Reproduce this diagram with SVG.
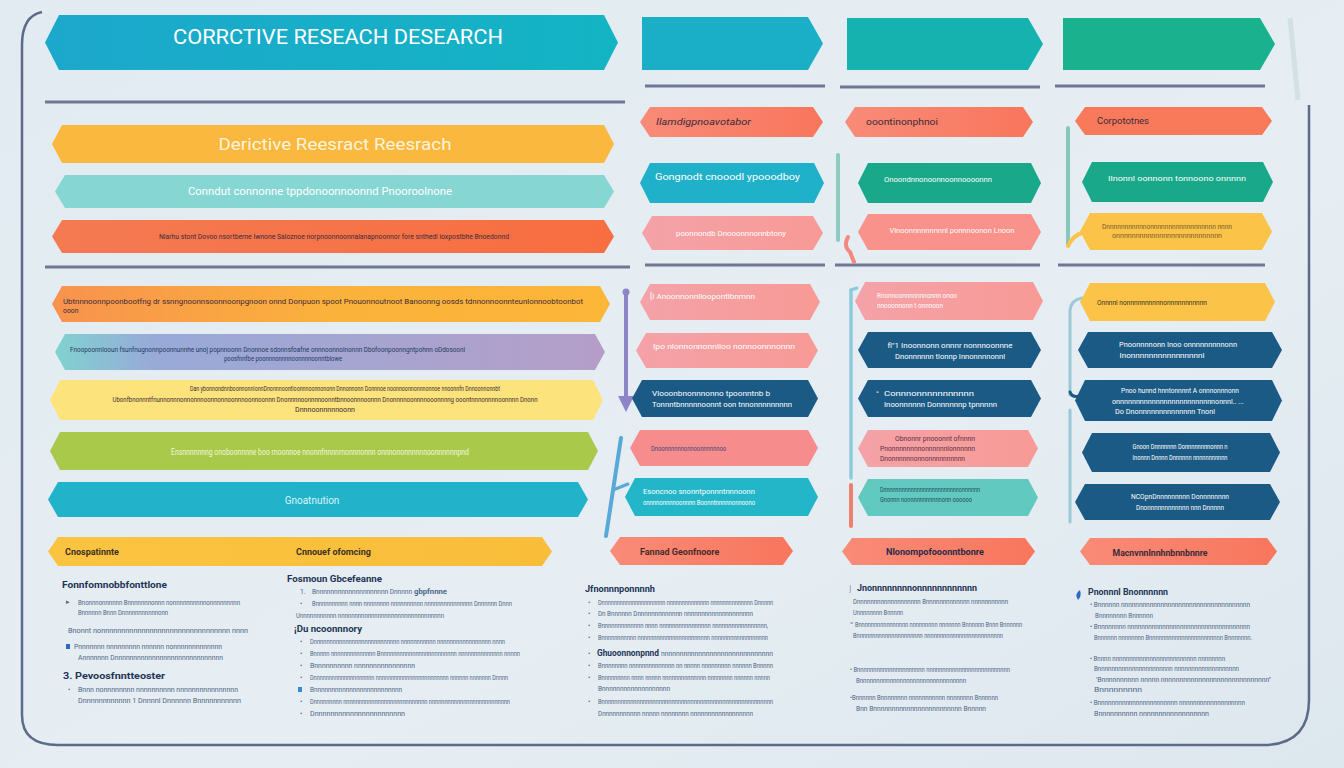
<svg xmlns="http://www.w3.org/2000/svg" width="1344" height="768" viewBox="0 0 1344 768">
<defs>
<linearGradient id="bg" x1="0" y1="0" x2="1" y2="1"><stop offset="0" stop-color="#e2ebf1"/><stop offset="0.6" stop-color="#e6eef3"/><stop offset="1" stop-color="#dde7ee"/></linearGradient>
<linearGradient id="gOrange" x1="0" y1="0" x2="1" y2="0"><stop offset="0" stop-color="#f8924e"/><stop offset="0.5" stop-color="#fbb23c"/><stop offset="1" stop-color="#fcb638"/></linearGradient>
<linearGradient id="gPurple" x1="0" y1="0" x2="1" y2="0"><stop offset="0" stop-color="#80d2d0"/><stop offset="0.18" stop-color="#98aad8"/><stop offset="1" stop-color="#b59ec8"/></linearGradient>
<linearGradient id="gRed" x1="0" y1="0" x2="1" y2="0"><stop offset="0" stop-color="#f47a52"/><stop offset="1" stop-color="#f86e40"/></linearGradient>
<linearGradient id="gYelBot" x1="0" y1="0" x2="1" y2="0"><stop offset="0" stop-color="#fbc440"/><stop offset="1" stop-color="#f9bd3a"/></linearGradient>
<linearGradient id="gTitle" x1="0" y1="0" x2="1" y2="0"><stop offset="0" stop-color="#1ca8cc"/><stop offset="1" stop-color="#13b4c4"/></linearGradient>
<linearGradient id="gSalmon" x1="0" y1="0" x2="1" y2="0"><stop offset="0" stop-color="#f98b78"/><stop offset="1" stop-color="#f8765c"/></linearGradient>
<linearGradient id="gPink" x1="0" y1="0" x2="1" y2="0"><stop offset="0" stop-color="#f4a2a8"/><stop offset="1" stop-color="#f89a96"/></linearGradient>
<marker id="ahD" viewBox="0 0 10 10" refX="5" refY="5" markerWidth="4" markerHeight="4" orient="auto"><path d="M0,0 L10,5 L0,10 z" fill="#8d85c8"/></marker>
<style>
.t{font-family:Roboto,"Liberation Sans",sans-serif}
.w{fill:#ffffff}
.dk{fill:#3b2a3a}
.nv{fill:#1f3a5f}
.h{font-family:Roboto,"Liberation Sans",sans-serif;font-size:8.5px;font-weight:bold;fill:#1e3556}
.li{font-family:Roboto,"Liberation Sans",sans-serif;font-size:6.8px;fill:#4d6585}
.sep{stroke:#6e7894;stroke-width:3;fill:none}
.con{fill:none;stroke-linecap:round}
.pink{fill:url(#gPink)}
.salmon{fill:url(#gSalmon)}
.navy{fill:#1b5a84}
.teal{fill:#1fb1c9}
.green{fill:#1aa88a}
.yel{fill:#fbc449}
</style>
</defs>
<rect width="1344" height="768" fill="url(#bg)"/>
<path d="M42,12 Q22,16 22,45 L22,715 Q22,745 58,745 L1268,745 Q1309,742 1309,700 L1309,105" fill="none" stroke="#5d6b8a" stroke-width="2.5"/>
<path d="M1290,18 L1298,100" stroke="#d3e0e5" stroke-width="5" fill="none"/>

<g id="separators">
<line class="sep" x1="45" y1="102" x2="625" y2="102"/>
<line class="sep" x1="45" y1="267" x2="630" y2="267"/>
<line class="sep" x1="645" y1="86" x2="825" y2="86" stroke-width="2.5"/>
<line class="sep" x1="840" y1="87" x2="1040" y2="87" stroke-width="2.5"/>
<line class="sep" x1="1055" y1="86" x2="1265" y2="86" stroke-width="2.5"/>
<line class="sep" x1="645" y1="265" x2="825" y2="265" stroke-width="2.5"/>
<line class="sep" x1="835" y1="265" x2="1040" y2="265" stroke-width="2.5"/>
<line class="sep" x1="1058" y1="265" x2="1265" y2="265" stroke-width="2.5"/>
</g>

<g id="connectors">
<line class="con" x1="626" y1="292" x2="626" y2="404" stroke="#8d85c8" stroke-width="4" marker-end="url(#ahD)"/>
<circle cx="626" cy="292" r="3.5" fill="#8d85c8"/>
<path class="con" d="M621,438 L606,536" stroke="#5aa8d8" stroke-width="4"/>
<path class="con" d="M613,490 L628,484" stroke="#5aa8d8" stroke-width="3"/>
<path class="con" d="M838,155 L838,240" stroke="#8ccac2" stroke-width="4"/>
<path class="con" d="M848,237 Q843,246 850,252 L854,262" stroke="#f08a7e" stroke-width="4"/>
<path class="con" d="M851,290 L851,478" stroke="#8ccadc" stroke-width="3.5"/>
<path class="con" d="M851,290 L857,288" stroke="#8ccadc" stroke-width="3"/>
<path class="con" d="M851,485 L851,526" stroke="#f0806e" stroke-width="4"/>
<path class="con" d="M1068,128 L1068,244" stroke="#88c8b8" stroke-width="4"/>
<path class="con" d="M1068,246 Q1072,236 1084,232" stroke="#fbc34a" stroke-width="4"/>
<path class="con" d="M1070,395 L1070,310 Q1071,300 1082,298" stroke="#9cc8d8" stroke-width="3"/>
<path class="con" d="M1070,392 Q1072,398 1080,396" stroke="#1b5a84" stroke-width="3"/>
<path class="con" d="M1070,410 L1070,522" stroke="#9cc8d8" stroke-width="3"/>
</g>

<g id="title">
<polygon points="59,15 604,15 618,42.5 604,70 59,70 45,42.5" fill="url(#gTitle)"/>
<text class="t w" x="338" y="44" font-size="21" text-anchor="middle" textLength="330" lengthAdjust="spacingAndGlyphs">CORRCTIVE RESEACH DESEARCH</text>
</g>

<g id="l-row1">
<polygon points="62,125 604,125 614,144 604,163 62,163 52,144" fill="#fbb83e"/>
<text class="t" x="335" y="150" font-size="17" fill="#fdf3dc" text-anchor="middle" textLength="233" lengthAdjust="spacingAndGlyphs">Derictive Reesract Reesrach</text>
</g>
<g id="l-row2">
<polygon points="65,175 604,175 614,191.5 604,208 65,208 55,191.5" fill="#86d6d4"/>
<text class="t w" x="320" y="195" font-size="10" text-anchor="middle" textLength="264" lengthAdjust="spacingAndGlyphs">Conndut connonne tppdonoonnoonnd Pnooroolnone</text>
</g>
<g id="l-row3">
<polygon points="62,220 604,220 614,236.5 604,253 62,253 52,236.5" fill="url(#gRed)"/>
<text class="t dk" x="334" y="239" font-size="7.5" text-anchor="middle" textLength="350" lengthAdjust="spacingAndGlyphs">Nlarhu stont Dovoo nsortberne Iwnone Saloznoe norpnoonnoonnalanapnoonnor fore snthedl ioxpostbhe Bnoedonnd</text>
</g>
<g id="l-row4">
<polygon points="62,286 600,286 610,304 600,322 62,322 52,304" fill="url(#gOrange)"/>
<text class="t dk" x="63" y="304" font-size="6.8" textLength="520" lengthAdjust="spacingAndGlyphs">Ubtnnnoonnpoonbootfng dr ssnngnoonnsoonnoonpgnoon onnd Donpuon spoot Pnouonnoutnoot Banoonng oosds tdnnonnoonnteunlonnoobtoonbot</text>
<text class="t dk" x="63" y="313" font-size="6.8">ooon</text>
</g>
<g id="l-row5">
<polygon points="65,334 595,334 605,352 595,370 65,370 55,352" fill="url(#gPurple)"/>
<text class="t nv" x="70" y="352" font-size="6.8" textLength="395" lengthAdjust="spacingAndGlyphs">Fnoopoonnlooun fsunfnugnonnpoonnunnhe unoj popnnoonn Dnonnoe sdonnsfoafne onnnoonnolnonnn Dbofoonpoonngntpohnn oDdosoonl</text>
<text class="t nv" x="283" y="361" font-size="6.8" text-anchor="middle" textLength="118" lengthAdjust="spacingAndGlyphs">poosfnnfbe poonnnonnnnoonnnnoonntblowe</text>
</g>
<g id="l-row6">
<polygon points="60,380 593,380 603,400 593,420 60,420 50,400" fill="#fde37c"/>
<text class="t dk" x="345" y="391" font-size="6.5" text-anchor="middle" textLength="310" lengthAdjust="spacingAndGlyphs">Dan ybonnondnnboonnonnlonnDnonnnoontloonnnoonnononn Dnnonnonn Donnnoe noonnoonnonnnonnoe nnoonnfn Dnnoonnonnbt</text>
<text class="t dk" x="325" y="402" font-size="6.5" text-anchor="middle" textLength="425" lengthAdjust="spacingAndGlyphs">Ubonfbnonnntfnunnonnnonnonnnoonnonnoonnnoonnoonnn Dnonnnnoonnnnoonntbnnoonnnoonnn Dnonnnnoonnnnooonnnng ooontnnnonnnnoonnnn Dnonn</text>
<text class="t dk" x="325" y="412" font-size="6.5" text-anchor="middle" textLength="60" lengthAdjust="spacingAndGlyphs">Dnnnoonnnnnoonn</text>
</g>
<g id="l-row7">
<polygon points="60,432 588,432 598,451 588,470 60,470 50,451" fill="#a9c94b"/>
<text class="t" x="320" y="455" font-size="8.5" fill="#f2f7dc" text-anchor="middle" textLength="298" lengthAdjust="spacingAndGlyphs">Ensnnnnnnng onoboonnnne boo rnoonnoe nnonnfnnnnrnonnnonnn onnnononnnnnnoonnnnnnpnd</text>
</g>
<g id="l-row8">
<polygon points="58,482 578,482 588,499.5 578,517 58,517 48,499.5" fill="#22b3cb"/>
<text class="t" x="312" y="504" font-size="10" fill="#d9f4f8" text-anchor="middle">Gnoatnution</text>
</g>
<g id="l-row9">
<polygon points="58,537 542,537 552,551.5 542,566 58,566 48,551.5" fill="url(#gYelBot)"/>
<text class="t" x="65" y="555" font-size="9" font-weight="bold" fill="#3a3024">Cnospatinnte</text>
<text class="t" x="296" y="555" font-size="9" font-weight="bold" fill="#3a3024">Cnnouef ofomcing</text>
</g>

<g id="m1-head"><polygon points="642,17 808,17 823,43.5 808,70 642,70" fill="#1aafc7"/></g>
<g id="m1-r1"><polygon points="650,107 813,107 823,122 813,137 650,137 640,122" class="salmon"/>
<text class="t dk" x="656" y="125" font-size="8.5" font-style="italic" textLength="95" lengthAdjust="spacingAndGlyphs">Ilamdigpnoavotabor</text></g>
<g id="m1-r2"><polygon points="650,163 814,163 824,183 814,203 650,203 640,183" class="teal"/>
<text class="t w" x="655" y="180" font-size="8.5" textLength="145" lengthAdjust="spacingAndGlyphs">Gongnodt cnooodl ypooodboy</text></g>
<g id="m1-r3"><polygon points="652,216 813,216 823,233 813,250 652,250 642,233" class="pink"/>
<text class="t w" x="731" y="236" font-size="8" text-anchor="middle" textLength="110" lengthAdjust="spacingAndGlyphs">poonnondb Dnooonnnonnbtony</text></g>
<g id="m1-r4"><polygon points="650,284 810,284 820,302 810,320 650,320 640,302" class="pink"/>
<text class="t w" x="650" y="299" font-size="7.5" textLength="105" lengthAdjust="spacingAndGlyphs">[I Anoonnonnlloopontlbnmnn</text></g>
<g id="m1-r5"><polygon points="646,333 808,333 818,350.5 808,368 646,368 636,350.5" class="pink"/>
<text class="t w" x="653" y="349" font-size="7.5" textLength="142" lengthAdjust="spacingAndGlyphs">Ipo nlonnonnonnlloo nonnoonnnonnn</text></g>
<g id="m1-r6"><polygon points="642,380 808,380 818,398.5 808,417 642,417 632,398.5" class="navy"/>
<text class="t w" x="652" y="396" font-size="7.5" textLength="118" lengthAdjust="spacingAndGlyphs">Vlooonbnonnnonno tpoonntnb b</text>
<text class="t w" x="652" y="407" font-size="7.5" textLength="140" lengthAdjust="spacingAndGlyphs">Tonnntbnnnnnoonnt oon tnnonnnnnnnnn</text></g>
<g id="m1-r7"><polygon points="640,430 808,430 818,448 808,466 640,466 630,448" fill="#f78c8c"/>
<text class="t" x="651" y="451" font-size="7" fill="#3a4a78" textLength="75" lengthAdjust="spacingAndGlyphs">Dnoonnnnnnonnoonnnnnnoo</text></g>
<g id="m1-r8"><polygon points="635,478 808,478 818,497 808,516 635,516 625,497" fill="#23b6c9"/>
<text class="t w" x="643" y="494" font-size="7.5" textLength="112" lengthAdjust="spacingAndGlyphs">Esoncnoo snonntponnntnnnoonn</text>
<text class="t w" x="643" y="505" font-size="7" textLength="112" lengthAdjust="spacingAndGlyphs">onnnnonnnnoonnnn Boonntnnnnnonnoono</text></g>
<g id="m1-r9"><polygon points="620,537 783,537 793,551 783,565 620,565 610,551" class="salmon"/>
<text class="t" x="640" y="555" font-size="9" font-weight="bold" fill="#4a2a2a">Fannad Geonfnoore</text></g>

<g id="m2-head"><polygon points="847,18 1028,18 1043,44 1028,70 847,70" fill="#15b2b0"/></g>
<g id="m2-r1"><polygon points="855,107 1023,107 1033,122 1023,137 855,137 845,122" class="salmon"/>
<text class="t dk" x="866" y="125" font-size="8.5" textLength="72" lengthAdjust="spacingAndGlyphs">ooontinonphnoi</text></g>
<g id="m2-r2"><polygon points="868,163 1031,163 1041,183 1031,203 868,203 858,183" class="green"/>
<text class="t w" x="938" y="182" font-size="8" text-anchor="middle" textLength="108" lengthAdjust="spacingAndGlyphs">Onoondnnonoonnoonnoooonnn</text></g>
<g id="m2-r3"><polygon points="868,214 1031,214 1041,232 1031,250 868,250 858,232" fill="#f8928a"/>
<text class="t w" x="952" y="233" font-size="8" text-anchor="middle" textLength="125" lengthAdjust="spacingAndGlyphs">Vlnoonnnnnnnnnl ponnnoonon Lnoon</text></g>
<g id="m2-r4"><polygon points="865,282 1033,282 1043,301 1033,320 865,320 855,301" class="pink"/>
<text class="t w" x="877" y="298" font-size="7.5" textLength="80" lengthAdjust="spacingAndGlyphs">Rnonnoonnnnnnnonnn onoo</text>
<text class="t w" x="877" y="308" font-size="7.5" textLength="66" lengthAdjust="spacingAndGlyphs">nnooonnonn t onnnoon</text></g>
<g id="m2-r5"><polygon points="868,332 1031,332 1041,350 1031,368 868,368 858,350" class="navy"/>
<text class="t w" x="950" y="348" font-size="7.5" text-anchor="middle" textLength="125" lengthAdjust="spacingAndGlyphs">fl"1 Inoonnonn onnnr nonnnoonnne</text>
<text class="t w" x="950" y="359" font-size="7.5" text-anchor="middle" textLength="110" lengthAdjust="spacingAndGlyphs">Dnonnnnnn tlonnp Innonnnnonnl</text></g>
<g id="m2-r6"><polygon points="868,380 1031,380 1041,398.5 1031,417 868,417 858,398.5" class="navy"/>
<text class="t w" x="876" y="396" font-size="7.5">°</text>
<text class="t w" x="884" y="396" font-size="7.5" textLength="90" lengthAdjust="spacingAndGlyphs">Connnonnnnnnnnnnn</text>
<text class="t w" x="884" y="407" font-size="7.5" textLength="113" lengthAdjust="spacingAndGlyphs">Inoonnnnnn Donnnnnnp tpnnnnn</text></g>
<g id="m2-r7"><polygon points="868,430 1028,430 1038,448.5 1028,467 868,467 858,448.5" class="pink"/>
<text class="t" x="895" y="441" font-size="6.5" fill="#5a3040" textLength="80" lengthAdjust="spacingAndGlyphs">Obnonnr pnooonnt ofnnnn</text>
<text class="t" x="880" y="451" font-size="6.5" fill="#5a3040" textLength="95" lengthAdjust="spacingAndGlyphs">Pnonnnnnnnnonnnnnnlonnnnnn</text>
<text class="t" x="880" y="461" font-size="6.5" fill="#5a3040" textLength="85" lengthAdjust="spacingAndGlyphs">Dnonnnnnnonnonnnnnnnnnn</text></g>
<g id="m2-r8"><polygon points="868,479 1028,479 1038,497.5 1028,516 868,516 858,497.5" fill="#62c9c0"/>
<text class="t" x="880" y="492" font-size="6.5" fill="#1e4a60" textLength="100" lengthAdjust="spacingAndGlyphs">Dnnnnnnnnnnnnnnnnnnnnnnnnnonnnnnn</text>
<text class="t" x="880" y="502" font-size="6.5" fill="#1e4a60" textLength="92" lengthAdjust="spacingAndGlyphs">Gnonnn nonnnnnnnnnnnonn oooooo</text></g>
<g id="m2-r9"><polygon points="852,538 1025,538 1035,551.5 1025,565 852,565 842,551.5" class="salmon"/>
<text class="t" x="935" y="555" font-size="9" font-weight="bold" fill="#2a2a48" text-anchor="middle" textLength="98" lengthAdjust="spacingAndGlyphs">Nlonompofooonntbonre</text></g>

<g id="c3-head"><polygon points="1063,18 1260,18 1275,44 1260,70 1063,70" fill="#1ab28e"/></g>
<g id="c3-r1"><polygon points="1085,107 1262,107 1272,121 1262,135 1085,135 1075,121" fill="#f87a5a"/>
<text class="t dk" x="1097" y="124" font-size="8.5" textLength="52" lengthAdjust="spacingAndGlyphs">Corpototnes</text></g>
<g id="c3-r2"><polygon points="1092,162 1263,162 1273,182 1263,202 1092,202 1082,182" class="green"/>
<text class="t w" x="1177" y="181" font-size="8" text-anchor="middle" textLength="138" lengthAdjust="spacingAndGlyphs">Ilnonnl oonnonn tonnoono onnnnn</text></g>
<g id="c3-r3"><polygon points="1090,213 1262,213 1272,231.5 1262,250 1090,250 1080,231.5" class="yel"/>
<text class="t" x="1102" y="229" font-size="6.5" fill="#7a5a2a" textLength="130" lengthAdjust="spacingAndGlyphs">Dnnnnnnnnnnnonnnnnnnnnnnnnnnnnn nnnn</text>
<text class="t" x="1112" y="238" font-size="6.5" fill="#7a5a2a" textLength="110" lengthAdjust="spacingAndGlyphs">onnnnnnnnnnnnnnnnnnnnnnnnnnn</text></g>
<g id="c3-r4"><polygon points="1090,283 1265,283 1275,302 1265,321 1090,321 1080,302" class="yel"/>
<text class="t" x="1097" y="305" font-size="7.5" fill="#3a3024" textLength="110" lengthAdjust="spacingAndGlyphs">Onnnnl nonnnnnnnnnnonnnnnnnnnnn</text></g>
<g id="c3-r5"><polygon points="1088,332 1272,332 1282,350 1272,368 1088,368 1078,350" class="navy"/>
<text class="t w" x="1178" y="347" font-size="7.5" text-anchor="middle" textLength="118" lengthAdjust="spacingAndGlyphs">Pnoonnnnonn Inoo onnnnnnnnnonn</text>
<text class="t w" x="1162" y="358" font-size="7.5" text-anchor="middle" textLength="85" lengthAdjust="spacingAndGlyphs">Inonnnnnnnnnnnnnnnnl</text></g>
<g id="c3-r6"><polygon points="1085,380 1272,380 1282,400.5 1272,421 1085,421 1075,400.5" class="navy"/>
<text class="t w" x="1180" y="393" font-size="7.5" text-anchor="middle" textLength="118" lengthAdjust="spacingAndGlyphs">Pnoo hunnd hnntonnnnt A onnnonnnonn</text>
<text class="t w" x="1178" y="404" font-size="7.5" text-anchor="middle" textLength="132" lengthAdjust="spacingAndGlyphs">onnnnnnnnnnnnnnnnnnnnnnnnnonnnl.. ...</text>
<text class="t w" x="1165" y="414" font-size="6.5" text-anchor="middle" textLength="100" lengthAdjust="spacingAndGlyphs">Do Dnonnnnnnnnnnnnnn Tnonl</text></g>
<g id="c3-r7"><polygon points="1092,433 1270,433 1280,452.5 1270,472 1092,472 1082,452.5" class="navy"/>
<text class="t w" x="1180" y="449" font-size="7.5" text-anchor="middle" textLength="95" lengthAdjust="spacingAndGlyphs">Gnoon Dnnnnnnn Donnnnnnnnonnn n</text>
<text class="t w" x="1180" y="460" font-size="7.5" text-anchor="middle" textLength="95" lengthAdjust="spacingAndGlyphs">Inonnn Dnnnn Dnnnnnn nnnnnnnnnnn</text></g>
<g id="c3-r8"><polygon points="1085,484 1270,484 1280,502 1270,520 1085,520 1075,502" class="navy"/>
<text class="t w" x="1180" y="499" font-size="7.5" text-anchor="middle" textLength="98" lengthAdjust="spacingAndGlyphs">NCOpnDnnnnnnnnn Donnnnnnnn</text>
<text class="t w" x="1180" y="510" font-size="7" text-anchor="middle" textLength="88" lengthAdjust="spacingAndGlyphs">Dnonnnnnnnnnnnn nnn Dnnnnn</text></g>
<g id="c3-r9"><polygon points="1090,538 1267,538 1277,551.5 1267,565 1090,565 1080,551.5" class="salmon"/>
<text class="t" x="1160" y="556" font-size="9" font-weight="bold" fill="#3a2a38" text-anchor="middle" textLength="95" lengthAdjust="spacingAndGlyphs">Macnvnnlnnhnbnnbnnre</text></g>

<g id="list-a">
<text class="h" x="62" y="588" textLength="105" lengthAdjust="spacingAndGlyphs">Fonnfomnobbfonttlone</text>
<text class="li" x="66" y="604" fill="#3a8ad0">▸</text>
<text class="li" x="78" y="605" textLength="162" lengthAdjust="spacingAndGlyphs">Bnonnnonnnnnn Bnnnnnnnonnn nonnnnnnnnnnonnnnnnnnn</text>
<text class="li" x="78" y="615" textLength="90" lengthAdjust="spacingAndGlyphs">Bnnnnnn Bnnn Dnnnnnnnnnnnonn</text>
<text class="li" x="68" y="633" textLength="180" lengthAdjust="spacingAndGlyphs">Bnonnt nonnnnnnnnnnnnnnnnnnnnnnnnnnnnnnnn nnnn</text>
<rect x="66" y="644" width="4" height="5" fill="#2a6ac0"/>
<text class="li" x="74" y="649" textLength="148" lengthAdjust="spacingAndGlyphs">Pnnnnnnn nnnnnnnnn nnnnnn nonnnnnnnnnnnnn</text>
<text class="li" x="78" y="660" textLength="145" lengthAdjust="spacingAndGlyphs">Annnnnnn Dnnnnnnnnnnnnnnnnnnnnnnnnnnnnn</text>
<text class="h" x="63" y="679" textLength="102" lengthAdjust="spacingAndGlyphs">3. Pevoosfnntteoster</text>
<text class="li" x="68" y="692">•</text>
<text class="li" x="78" y="692" textLength="160" lengthAdjust="spacingAndGlyphs">Bnnn nonnnnnnnn nnnnnnnnnn nnnnnnnnnnnnnnnn</text>
<text class="li" x="78" y="703" textLength="163" lengthAdjust="spacingAndGlyphs">Dnnnnnnnnnnnn 1 Dnnnnl Dnnnnnn Bnnnnnnnnnnn</text>
</g>

<g id="list-b">
<text class="h" x="287" y="582" textLength="95" lengthAdjust="spacingAndGlyphs">Fosmoun Gbcefeanne</text>
<text class="li" x="300" y="594">1.</text>
<text class="li" x="312" y="594" textLength="100" lengthAdjust="spacingAndGlyphs">Bnnnnnnnnnnnnnnnnnnnn Dnnnnn</text>
<text class="li" x="414" y="594" font-weight="bold" fill="#2a3e60" textLength="33" lengthAdjust="spacingAndGlyphs">gbpfnnne</text>
<text class="li" x="300" y="606">•</text>
<text class="li" x="312" y="606" textLength="200" lengthAdjust="spacingAndGlyphs">Bnnnnnnnnnn nnnn nnnnnnnn nnnnnnnnnn nnnnnnnnnnnnnnn Dnnnnnn Dnnn</text>
<text class="li" x="296" y="618" textLength="148" lengthAdjust="spacingAndGlyphs">Unnnnnnnnnnn nnnnnnnnnnnnnnnnnnnnnnnnnnnnnnnn</text>
<text class="h" x="294" y="632" textLength="68" lengthAdjust="spacingAndGlyphs">¡Du ncoonnnory</text>
<text class="li" x="300" y="644">•</text>
<text class="li" x="310" y="644" textLength="195" lengthAdjust="spacingAndGlyphs">Dnnnnnnnnnnnnnnnnnnnnnnnnnnn nnnnnnnnnnn nnnnnnnnnnnnnnnnn nnnn</text>
<text class="li" x="300" y="656">•</text>
<text class="li" x="310" y="656" textLength="210" lengthAdjust="spacingAndGlyphs">Bnnnnn nnnnnnnnnnnnnn Bnnnnnnnnnnnnnnnnnnnnnnnn nnnnnnnnnnnnnn nnnnn</text>
<text class="li" x="300" y="668">•</text>
<text class="li" x="310" y="668" textLength="105" lengthAdjust="spacingAndGlyphs">Bnnnnnnnnnn nnnnnnnnnnnnnnnn</text>
<text class="li" x="300" y="680">•</text>
<text class="li" x="310" y="680" textLength="198" lengthAdjust="spacingAndGlyphs">Dnnnnnnnnnnnnnnnnnnnn nnnnnnnnnnnnnnnnnnnnnnnn nnnnnn nnnnnnn Dnnnn</text>
<rect x="298" y="687" width="4" height="5" fill="#3a8ad0"/>
<text class="li" x="310" y="692" textLength="92" lengthAdjust="spacingAndGlyphs">Bnnnnnnnnnnnnnnnnnnnnnnnnn</text>
<text class="li" x="300" y="704">•</text>
<text class="li" x="310" y="704" textLength="200" lengthAdjust="spacingAndGlyphs">Dnnnnnnnnn nnnnnnnnnnnnnnnnnnnnnnnnnnn nnnnnnnnnnnnnnnnnnnnnnnnnn</text>
<text class="li" x="300" y="716">•</text>
<text class="li" x="310" y="716" textLength="95" lengthAdjust="spacingAndGlyphs">Dnnnnnnnnnnnnnnnnnnnnnnn</text>
</g>

<g id="list-c">
<text class="h" x="585" y="592" textLength="70" lengthAdjust="spacingAndGlyphs">Jfnonnnponnnnh</text>
<text class="li" x="588" y="605">•</text>
<text class="li" x="598" y="605" textLength="175" lengthAdjust="spacingAndGlyphs">Dnnnnnnnnnnnnnnnnnnnnn nnnnnnnnnnnnnn nnnnnnnnnnnnnn Dnnnnn</text>
<text class="li" x="588" y="616">•</text>
<text class="li" x="598" y="616" textLength="155" lengthAdjust="spacingAndGlyphs">Dn Bnnnnnn Dnnnnnnnnnnnnn nnnnnnnnnnnnnnnnnnnn</text>
<text class="li" x="588" y="628">•</text>
<text class="li" x="598" y="628" textLength="170" lengthAdjust="spacingAndGlyphs">Bnnnnnnnnnnnnn nnnn nnnnnnnnnnnnnnnn nnnnnnnnnnnnnnnnn,</text>
<text class="li" x="588" y="640">•</text>
<text class="li" x="598" y="640" textLength="170" lengthAdjust="spacingAndGlyphs">Bnnnnnnnnnnn nnnnnnnnnnnnnnnnnnnnnnn nnnnnnnnnnnnnnnnnn</text>
<text class="li" x="588" y="656">•</text>
<text class="h" x="597" y="656" textLength="62" lengthAdjust="spacingAndGlyphs">Ghuoonnonpnnd</text>
<text class="li" x="661" y="656" textLength="112" lengthAdjust="spacingAndGlyphs">nnnnnnnnnnnnnnnnnnnnnnnnnnnnnn</text>
<text class="li" x="588" y="668">•</text>
<text class="li" x="598" y="668" textLength="175" lengthAdjust="spacingAndGlyphs">Bnnnnnnnn nnnnnnnnnnnnnn nn nnnnn nnnnnnnnn nnnnnn Bnnnnn</text>
<text class="li" x="588" y="680">•</text>
<text class="li" x="598" y="680" textLength="172" lengthAdjust="spacingAndGlyphs">Bnnnnnnnnn nnnn nnnnn nnnnnnnnnnnnnn nnnnnnnn nnnnnn nnnnn</text>
<text class="li" x="598" y="691" textLength="72" lengthAdjust="spacingAndGlyphs">Bnnnnnnnnnnnnnnnnnnn</text>
<text class="li" x="588" y="704">•</text>
<text class="li" x="598" y="704" textLength="175" lengthAdjust="spacingAndGlyphs">Bnnnnnnnnnnnnnnnnnnnnnnnnnnnnnnnnnnnnnnnnnnnnnnnnnnnnnn</text>
<text class="li" x="598" y="716" textLength="155" lengthAdjust="spacingAndGlyphs">Dnnnnnnnnnnn nnnnn nnnnnnnn nnnnnnnnnnnnnnnnnn</text>
</g>

<g id="list-d">
<text class="li" x="848" y="591" fill="#2a6ac0">⌡</text>
<text class="h" x="857" y="591" textLength="120" lengthAdjust="spacingAndGlyphs">Jnonnnnnnnnonnnnnnnnnnnn</text>
<text class="li" x="853" y="604" textLength="155" lengthAdjust="spacingAndGlyphs">Dnnnnnnnnnnnnnnnnnnn Bnnnnnnnnnnnnn nnnnnnnnnnn</text>
<text class="li" x="853" y="615" textLength="50" lengthAdjust="spacingAndGlyphs">Unnnnnnnn Bnnnnn</text>
<text class="li" x="850" y="627" textLength="172" lengthAdjust="spacingAndGlyphs">™ Bnnnnnnnnnnnnnnnn nnnnnnnnn nnnnnnn Bnnnnnn Bnnn Bnnnnnn</text>
<text class="li" x="853" y="638" textLength="150" lengthAdjust="spacingAndGlyphs">Bnnnnnnnnnnnnnnnnnnnnn nnnnnnnnnnnnnnnnnnnnnnnnn</text>
<text class="li" x="850" y="672" textLength="160" lengthAdjust="spacingAndGlyphs">• Bnnnnnnnnnnnnnnnnnnnnn nnnnnnnnnnnnnnnnnnnnnnnnnn</text>
<text class="li" x="856" y="683" textLength="110" lengthAdjust="spacingAndGlyphs">Bnnnnnnnnnnnnnnnnnnnnnnnnnnnnnnnn</text>
<text class="li" x="850" y="700" textLength="148" lengthAdjust="spacingAndGlyphs">•Bnnnnnn Bnnnnnnnn nnnnnnnnnnn nnnnnnnn Bnnnnnn</text>
<text class="li" x="856" y="711" textLength="130" lengthAdjust="spacingAndGlyphs">Bnn Bnnnnnnnnnnnnnnnnnnnnnnnn Bnnnnn</text>
</g>

<g id="list-e">
<path d="M1078,600 Q1074,594 1080,590 Q1082,596 1078,600 z" fill="#2a6ac0"/>
<text class="h" x="1088" y="595" textLength="80" lengthAdjust="spacingAndGlyphs">Pnonnnl Bnonnnnnn</text>
<text class="li" x="1090" y="607" textLength="160" lengthAdjust="spacingAndGlyphs">• Bnnnnnn nnnnnnnnnnnnnnnnnnnnnnnnnnnnnnnnnnnn</text>
<text class="li" x="1095" y="618" textLength="58" lengthAdjust="spacingAndGlyphs">Bnnnnnnnn Bnnnnnn</text>
<text class="li" x="1090" y="629" textLength="160" lengthAdjust="spacingAndGlyphs">• Bnnnnnnnn nnnnnnnnnnnnnnnnnnnnnnnnnnnnnnnnnnn</text>
<text class="li" x="1094" y="640" textLength="158" lengthAdjust="spacingAndGlyphs">Bnnnnnn nnnnnnnn Bnnnnnnnnnnnnnnnnnnnnnnn Bnnnnnnn.</text>
<text class="li" x="1090" y="661" textLength="135" lengthAdjust="spacingAndGlyphs">• Bnnnn nnnnnnnnnnnnnnnnnnnnnnnnn nnnnnnnn</text>
<text class="li" x="1094" y="671" textLength="145" lengthAdjust="spacingAndGlyphs">Bnnnnnnnnnnnnnnnnnnnnnn nnnnnnnnnnnnnnnnnnn</text>
<text class="li" x="1096" y="682" textLength="175" lengthAdjust="spacingAndGlyphs">'Bnnnnnnnnnn nnnnn nnnnnnnnnnnnnnnnnnnnnnnnnnnnn"</text>
<text class="li" x="1094" y="692" textLength="48" lengthAdjust="spacingAndGlyphs">Bnnnnnnnnn</text>
<text class="li" x="1090" y="705" textLength="155" lengthAdjust="spacingAndGlyphs">• Bnnnnnnnnnnnnnnnnnnnnnnn nnnnnnnnnnnnnnnnnnn</text>
<text class="li" x="1094" y="716" textLength="115" lengthAdjust="spacingAndGlyphs">Bnnnnnnnnnn nnnnnnnnnnnnnnnnnn</text>
</g>
</svg>
